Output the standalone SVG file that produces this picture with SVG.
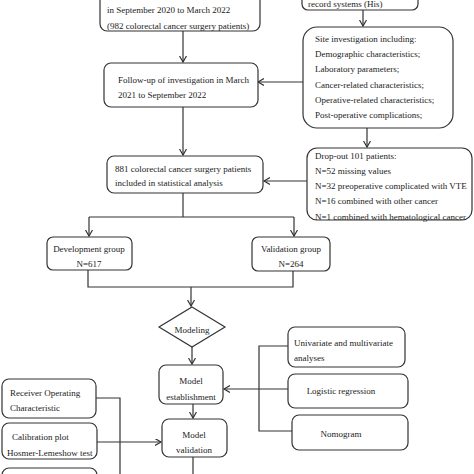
<svg xmlns="http://www.w3.org/2000/svg" width="474" height="474" viewBox="0 0 474 474">
<style>
.b{fill:#fff;stroke:#333;stroke-width:1.2}
.c{fill:none;stroke:#333;stroke-width:1.2}
text{font-family:"Liberation Serif","Times New Roman",serif;font-size:9px;fill:#222}
.m{text-anchor:middle}
</style>
<defs>
<marker id="a" markerUnits="userSpaceOnUse" markerWidth="8" markerHeight="8" refX="6" refY="3.5" orient="auto">
<path d="M0,0 L6,3.5 L0,7" fill="none" stroke="#333" stroke-width="1.2"/>
</marker>
</defs>
<rect width="474" height="474" fill="#fff"/>
<g id="connectors">
<line class="c" x1="183" y1="31" x2="183" y2="62" marker-end="url(#a)"/>
<line class="c" x1="363" y1="10" x2="363" y2="26" marker-end="url(#a)"/>
<line class="c" x1="303" y1="82" x2="258" y2="82" marker-end="url(#a)"/>
<line class="c" x1="183" y1="107" x2="183" y2="155" marker-end="url(#a)"/>
<line class="c" x1="367" y1="128" x2="367" y2="147" marker-end="url(#a)"/>
<line class="c" x1="307" y1="181" x2="264" y2="181" marker-end="url(#a)"/>
<polyline class="c" points="183,193 183,217"/>
<polyline class="c" points="89,217 294,217"/>
<line class="c" x1="89" y1="217" x2="89" y2="236" marker-end="url(#a)"/>
<line class="c" x1="294" y1="217" x2="294" y2="236" marker-end="url(#a)"/>
<polyline class="c" points="88,270 88,287 293,287 293,271"/>
<line class="c" x1="191" y1="287" x2="191" y2="306" marker-end="url(#a)"/>
<line class="c" x1="192" y1="347" x2="192" y2="364" marker-end="url(#a)"/>
<line class="c" x1="193" y1="404" x2="193" y2="418" marker-end="url(#a)"/>
<line class="c" x1="193" y1="457" x2="193" y2="476"/>
<polyline class="c" points="288,346 259,346 259,431 292,431"/>
<line class="c" x1="288" y1="389" x2="224" y2="389" marker-end="url(#a)"/>
<polyline class="c" points="96,398 120,398 120,476"/>
<line class="c" x1="97" y1="442" x2="161" y2="442" marker-end="url(#a)"/>
</g>
<g id="n-enroll">
<rect class="b" x="100" y="-20" width="160" height="51" rx="7"/>
<text x="107" y="13">in September 2020 to March 2022</text>
<text x="107" y="29">(982 colorectal cancer surgery patients)</text>
</g>
<g id="n-his">
<rect class="b" x="302" y="-20" width="116" height="30" rx="6"/>
<text x="308" y="7">record systems (His)</text>
</g>
<g id="n-followup">
<rect class="b" x="104" y="63" width="154" height="44" rx="7"/>
<text x="118" y="83">Follow-up of investigation in March</text>
<text x="118" y="98">2021 to September 2022</text>
</g>
<g id="n-site">
<rect class="b" x="303" y="27" width="150" height="101" rx="14"/>
<text x="315" y="42">Site investigation including:</text>
<text x="315" y="57">Demographic characteristics;</text>
<text x="315" y="72">Laboratory parameters;</text>
<text x="315" y="88">Cancer-related characteristics;</text>
<text x="315" y="103">Operative-related characteristics;</text>
<text x="315" y="118">Post-operative complications;</text>
</g>
<g id="n-dropout">
<rect class="b" x="307" y="148" width="165" height="72" rx="10"/>
<text x="315" y="159">Drop-out 101 patients:</text>
<text x="315" y="174">N=52 missing values</text>
<text x="315" y="189">N=32 preoperative complicated with VTE</text>
<text x="315" y="204">N=16 combined with other cancer</text>
<text x="315" y="220">N=1 combined with hematological cancer</text>
</g>
<g id="n-881">
<rect class="b" x="107" y="156" width="156" height="37" rx="7"/>
<text x="115" y="172">881 colorectal cancer surgery patients</text>
<text x="115" y="186">included in statistical analysis</text>
</g>
<g id="n-dev">
<rect class="b" x="47" y="237" width="85" height="33" rx="6"/>
<text class="m" x="89" y="252">Development group</text>
<text class="m" x="89" y="267">N=617</text>
</g>
<g id="n-val">
<rect class="b" x="252" y="237" width="78" height="34" rx="6"/>
<text class="m" x="291" y="252">Validation group</text>
<text class="m" x="291" y="267">N=264</text>
</g>
<g id="n-modeling">
<polygon class="b" points="192,307 225,327 192,347 159,327"/>
<text class="m" x="192" y="333">Modeling</text>
</g>
<g id="n-establish">
<rect class="b" x="159" y="365" width="64" height="39" rx="7"/>
<text class="m" x="191" y="384">Model</text>
<text class="m" x="191" y="400">establishment</text>
</g>
<g id="n-validation">
<rect class="b" x="162" y="419" width="65" height="38" rx="7"/>
<text class="m" x="194" y="438">Model</text>
<text class="m" x="194" y="453">validation</text>
</g>
<g id="n-univariate">
<rect class="b" x="288" y="327" width="117" height="40" rx="7"/>
<text x="294" y="346">Univariate and multivariate</text>
<text x="294" y="361">analyses</text>
</g>
<g id="n-logistic">
<rect class="b" x="288" y="374" width="120" height="34" rx="7"/>
<text class="m" x="341" y="394">Logistic regression</text>
</g>
<g id="n-nomogram">
<rect class="b" x="292" y="415" width="116" height="35" rx="7"/>
<text class="m" x="341" y="437">Nomogram</text>
</g>
<g id="n-roc">
<rect class="b" x="2" y="379" width="94" height="39" rx="7"/>
<text x="10" y="396">Receiver Operating</text>
<text x="10" y="411">Characteristic</text>
</g>
<g id="n-calib">
<rect class="b" x="2" y="423" width="95" height="36" rx="7"/>
<text x="12" y="440">Calibration plot</text>
<text x="7" y="456">Hosmer-Lemeshow test</text>
</g>
<g id="n-next">
<rect class="b" x="2" y="468" width="95" height="30" rx="7"/>
</g>
</svg>
